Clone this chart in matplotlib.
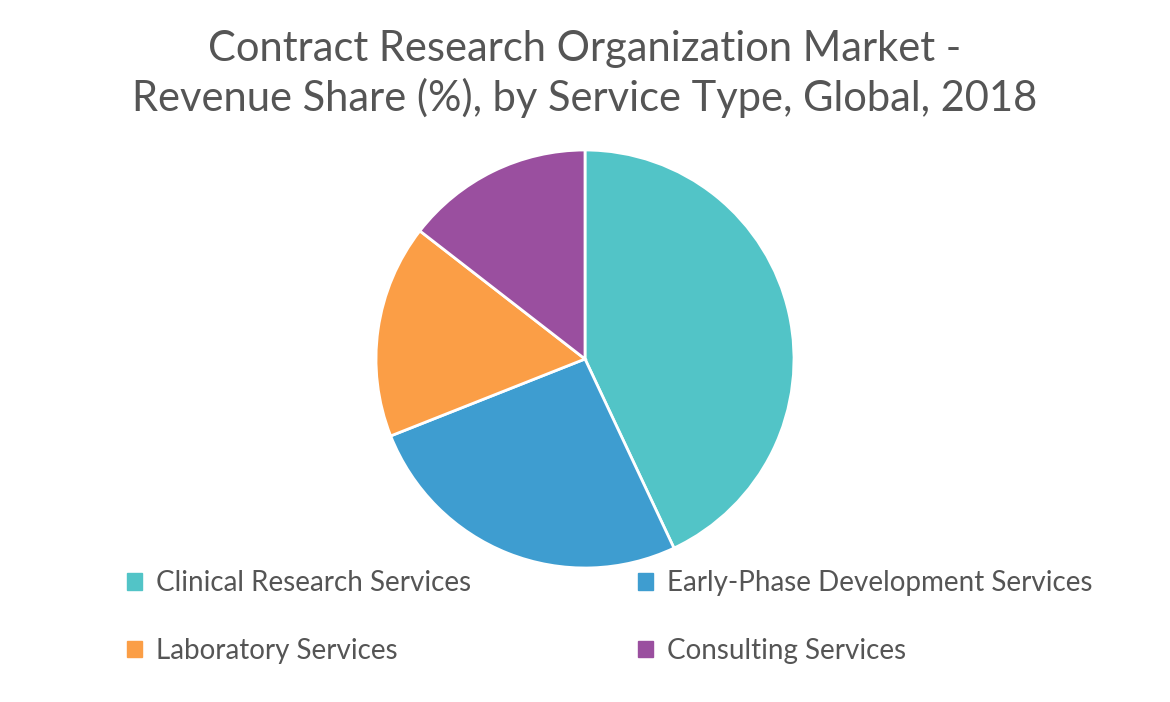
import matplotlib
matplotlib.use("Agg")
import matplotlib.pyplot as plt
from matplotlib.patches import Patch

categories = ["Clinical Research Services", "Early-Phase Development Services",
              "Laboratory Services", "Consulting Services"]
values = [43, 26, 16.5, 14.5]
colors = ["#52C4C7", "#3E9DD0", "#FB9E46", "#9A4F9F"]

plt.rcParams['font.family'] = ['Lato', 'DejaVu Sans']
fig = plt.figure(figsize=(11.7, 7.02), dpi=100)
ax = fig.add_axes([376/1170, (702-568)/702, 418/1170, 418/702])
ax.pie(values, colors=colors, startangle=90, counterclock=False, radius=1,
       wedgeprops=dict(edgecolor="white", linewidth=2))
ax.set_xlim(-1, 1); ax.set_ylim(-1, 1)
ax.set_aspect('equal')
fig.text(0.5, 0.895, "Contract Research Organization Market -\nRevenue Share (%), by Service Type, Global, 2018",
         ha='center', va='center', fontsize=30, color='#555555', linespacing=1.3)

handles = [Patch(color=c) for c in colors]
fig.legend([handles[0], handles[2], handles[1], handles[3]],
           [categories[0], categories[2], categories[1], categories[3]],
           ncol=2, loc='center', bbox_to_anchor=(0.521, 0.121), frameon=False,
           fontsize=20, labelcolor='#555555', handlelength=0.55, handleheight=0.55,
           handletextpad=0.5, columnspacing=6.0, labelspacing=1.5)
fig.savefig("out.png", dpi=100, facecolor='white')
